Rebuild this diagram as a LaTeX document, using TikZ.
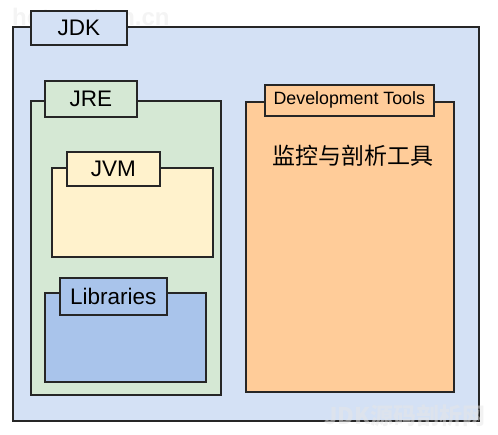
\documentclass[tikz,border=0pt]{standalone}
\usepackage{fontspec}
\setmainfont{Liberation Sans}
\newfontfamily\cjk{Noto Sans CJK SC}
\usetikzlibrary{positioning}
\definecolor{jdkBlue}{HTML}{D4E1F5}
\definecolor{jreGreen}{HTML}{D5E8D4}
\definecolor{jvmYellow}{HTML}{FFF2CC}
\definecolor{libBlue}{HTML}{A9C4EB}
\definecolor{toolOrange}{HTML}{FFCC99}
\definecolor{markGray}{HTML}{E6E6E6}

\begin{document}
\begin{tikzpicture}[
    x=1pt, y=-1pt,
    box/.style={rectangle, draw=black!85, line width=1.6pt, anchor=north west, inner sep=0pt},
    tab/.style={box, font=\fontsize{22.5}{26}\selectfont},
    smalltab/.style={box, font=\fontsize{17.8}{21}\selectfont},
    watermark/.style={text=markGray, opacity=0.5, inner sep=0pt}
]
    \useasboundingbox (0,0) rectangle (498,435);

    % Watermark (top)
    \node[watermark, opacity=0.45, anchor=west, font=\bfseries\fontsize{24}{28}\selectfont] (markTop) at (12,19) {hotspotvm.cn};

    % JDK
    \node[box, fill=jdkBlue, minimum width=466pt, minimum height=394pt] (jdk) at (12,26) {};
    \node[tab, fill=jdkBlue, minimum width=96pt, minimum height=34pt] (jdktab) at (30,10) {JDK};

    % JRE
    \node[box, fill=jreGreen, minimum width=190pt, minimum height=294pt] (jre) at (30,100) {};
    \node[tab, fill=jreGreen, minimum width=92pt, minimum height=36pt] (jretab) at (44,80) {JRE};

    % JVM
    \node[box, fill=jvmYellow, minimum width=161pt, minimum height=89pt] (jvm) at (51,167) {};
    \node[tab, fill=jvmYellow, minimum width=93pt, minimum height=34pt] (jvmtab) at (66,151) {JVM};

    % Libraries
    \node[box, fill=libBlue, minimum width=161pt, minimum height=89pt] (lib) at (44,292) {};
    \node[tab, fill=libBlue, minimum width=107pt, minimum height=37pt] (libtab) at (59,277) {Libraries};

    % Development tools
    \node[box, fill=toolOrange, minimum width=208pt, minimum height=290pt] (tools) at (245,101) {};
    \node[smalltab, fill=toolOrange, minimum width=169pt, minimum height=31pt] (toolstab) at (264,84) {Development Tools};
    \node[font=\cjk\fontsize{23}{26}\selectfont] (monitor) at (353,156) {监控与剖析工具};

    % Watermark (bottom)
    \node[watermark, anchor=east, font=\cjk\bfseries\fontsize{23}{26}\selectfont] (markBottom) at (486,416) {JDK源码剖析网};
\end{tikzpicture}
\end{document}
